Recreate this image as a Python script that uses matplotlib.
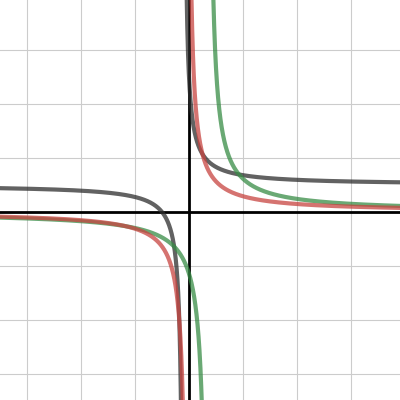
import numpy as np
import matplotlib.pyplot as plt

# curves: y = c + a / (x - h)
names = ["black", "green", "red"]
a_vals = [0.2, 0.4, 0.3]
h_vals = [-0.1, 0.35, -0.03]
c_vals = [0.5, 0.0, 0.0]
colors = ["#2d2d2d", "#388c46", "#c74440"]

fig = plt.figure(figsize=(4, 4), dpi=100)
ax = fig.add_axes([0, 0, 1, 1])
xmin, xmax = -189 / 54, 211 / 54
ymin, ymax = -188 / 54, 212 / 54
ax.set_xlim(xmin, xmax)
ax.set_ylim(ymin, ymax)

for g in range(-4, 5):
    ax.axvline(g, color="#cccccc", lw=0.8, zorder=0)
    ax.axhline(g, color="#cccccc", lw=0.8, zorder=0)
ax.axvline(0, color="black", lw=2, zorder=1)
ax.axhline(0, color="black", lw=2, zorder=1)

for a, h, c, col in zip(a_vals, h_vals, c_vals, colors):
    for lo, hi in [(xmin, h - 1e-4), (h + 1e-4, xmax)]:
        x = np.linspace(lo, hi, 2000)
        y = c + a / (x - h)
        ax.plot(x, y, color=col, lw=3, alpha=0.75, zorder=2)

ax.axis("off")
fig.savefig("out.png")
